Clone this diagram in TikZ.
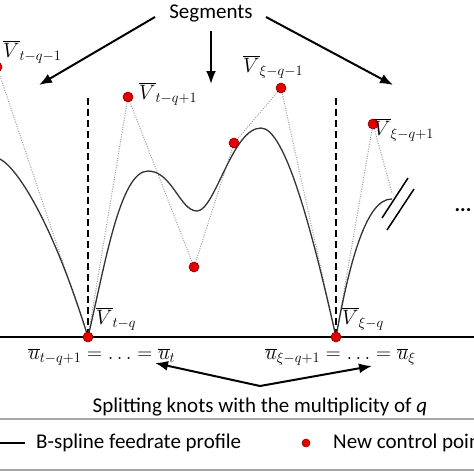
\documentclass[tikz,border=0pt]{standalone}
\usepackage{fontspec}
\setmainfont{Carlito}
\usetikzlibrary{arrows.meta}
\tikzset{
  ctrldot/.style={circle,fill=red!90!black,draw=red!50!black,line width=0.6pt,minimum size=10pt,inner sep=0pt},
  legdot/.style={circle,fill=red!90!black,draw=red!50!black,line width=0.6pt,minimum size=8pt,inner sep=0pt},
  poly/.style={gray!75,line width=1pt,dash pattern=on 1pt off 1.4pt},
  spline/.style={black!80,line width=1.3pt},
  knotline/.style={black,line width=1.6pt,dash pattern=on 7pt off 4pt},
  bigarrow/.style={black,line width=2pt,-{Latex[length=13pt,width=10pt]}},
  mathlab/.style={inner sep=0pt,font=\fontsize{21}{23}\selectfont},
  txt/.style={inner sep=0pt,font=\fontsize{21}{24}\selectfont},
  sepline/.style={gray!70,line width=1.5pt}
}
\begin{document}
\begin{tikzpicture}[x=1pt,y=-1pt]
\useasboundingbox (0,0) rectangle (474,474);
\clip (0,0) rectangle (474,474);

% base axis
\coordinate (axl) at (0,337);
\coordinate (axr) at (474,337);
\draw[black,line width=1.8pt] (axl) -- (axr);

% knot lines
\coordinate (k1t) at (88,98);
\coordinate (k1b) at (88,337);
\coordinate (k2t) at (336,98);
\coordinate (k2b) at (336,337);
\draw[knotline] (k1t) -- (k1b);
\draw[knotline] (k2t) -- (k2b);

% control points (positions)
\coordinate (p0) at (-3,67);
\coordinate (p1) at (88,337);
\coordinate (p2) at (128,97);
\coordinate (p3) at (194,267);
\coordinate (p4) at (234,143);
\coordinate (p5) at (281,88);
\coordinate (p6) at (336,337);
\coordinate (p7) at (373,124);
\coordinate (p8) at (392,193);

% control polygon
\draw[poly] (p0) -- (p1) -- (p2) -- (p3) -- (p4) -- (p5) -- (p6) -- (p7) -- (p8);

% spline
\draw[spline] (0,159) .. controls (20,170) and (55,230) .. (88,337);
\draw[spline] (88,337) .. controls (105,265) and (120,171) .. (148,171)
  .. controls (172,171) and (180,211) .. (197,211)
  .. controls (215,211) and (232,128) .. (261,128)
  .. controls (285,128) and (312,230) .. (336,337);
\draw[spline] (336,337) .. controls (348,270) and (365,198) .. (392,199);

% dots on top
\node[ctrldot] (d0) at (p0) {};
\node[ctrldot] (d1) at (p1) {};
\node[ctrldot] (d2) at (p2) {};
\node[ctrldot] (d3) at (p3) {};
\node[ctrldot] (d4) at (p4) {};
\node[ctrldot] (d5) at (p5) {};
\node[ctrldot] (d6) at (p6) {};
\node[ctrldot] (d7) at (p7) {};

% break marks
\coordinate (b1a) at (382,218);
\coordinate (b1b) at (408,178);
\coordinate (b2a) at (387,230);
\coordinate (b2b) at (414,189);
\draw[black,line width=1.5pt] (b1a) -- (b1b);
\draw[black,line width=1.5pt] (b2a) -- (b2b);
\node[txt] (dots) at (463,210) {\textbf{...}};

% control point labels
\node[mathlab,anchor=west] (lv0) at (3,52) {$\overline{V}_{t-q-1}$};
\node[mathlab,anchor=west] (lv2) at (139,94) {$\overline{V}_{t-q+1}$};
\node[mathlab,anchor=west] (lv5) at (243,67) {$\overline{V}_{\xi-q-1}$};
\node[mathlab,anchor=west] (lv7) at (374,130) {$\overline{V}_{\xi-q+1}$};
\node[mathlab,anchor=west] (lv1) at (96,319) {$\overline{V}_{t-q}$};
\node[mathlab,anchor=west] (lv6) at (342,319) {$\overline{V}_{\xi-q}$};

% knot labels
\node[mathlab,anchor=west] (u1) at (28,357) {$\overline{u}_{t-q+1}=\ldots=\overline{u}_{t}$};
\node[mathlab,anchor=west] (u2) at (265,357) {$\overline{u}_{\xi-q+1}=\ldots=\overline{u}_{\xi}$};

% Segments
\node[txt] (seg) at (211,13) {Segments};
\coordinate (sa1) at (155,17);
\coordinate (sa1e) at (39,85);
\coordinate (sa2) at (211,31);
\coordinate (sa2e) at (211,84);
\coordinate (sa3) at (266,17);
\coordinate (sa3e) at (393,85);
\draw[bigarrow] (sa1) -- (sa1e);
\draw[bigarrow] (sa2) -- (sa2e);
\draw[bigarrow] (sa3) -- (sa3e);

% splitting knots
\coordinate (sv) at (260,386);
\coordinate (st1) at (155,363);
\coordinate (st2) at (372,366);
\draw[bigarrow] (sv) -- (st1);
\draw[bigarrow] (sv) -- (st2);
\node[txt] (split) at (260,407) {Splitting knots with the multiplicity of \textit{q}};

% legend
\coordinate (sep1l) at (0,419);
\coordinate (sep1r) at (474,419);
\coordinate (sep2l) at (0,470);
\coordinate (sep2r) at (474,470);
\draw[sepline] (sep1l) -- (sep1r);
\draw[sepline] (sep2l) -- (sep2r);
\coordinate (lg1) at (0,443);
\coordinate (lg2) at (25,443);
\draw[black,line width=1.5pt] (lg1) -- (lg2);
\node[txt,anchor=west] (lgt1) at (36,443) {B-spline feedrate profile};
\node[legdot] (lgd) at (306,443) {};
\node[txt,anchor=west] (lgt2) at (333,443) {New control points};
\end{tikzpicture}
\end{document}
